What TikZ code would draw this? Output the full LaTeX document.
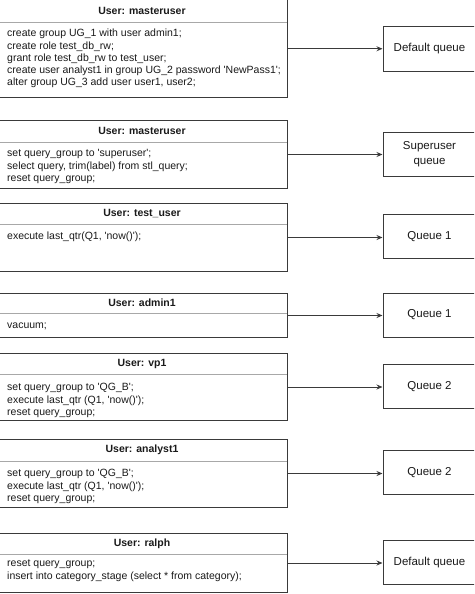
\documentclass[tikz,border=0pt]{standalone}
\usepackage{fontspec}
\newfontfamily\dfont{Liberation Sans}
\usetikzlibrary{arrows.meta}
\definecolor{bordc}{HTML}{3A3A3A}
\definecolor{divc}{HTML}{A8A8A8}
\definecolor{txtc}{HTML}{1A1A1A}
\tikzset{
  ubox/.style={draw=bordc, line width=1pt, minimum width=290pt, inner sep=0pt, anchor=north west},
  divider/.style={draw=divc, line width=0.7pt},
  utitle/.style={font=\dfont\bfseries\fontsize{10.5}{12.3}\selectfont, text=txtc, inner sep=0pt},
  ubody/.style={font=\dfont\fontsize{10.5}{12.3}\selectfont, text=txtc, align=left, inner sep=0pt, anchor=north west},
  qbox/.style={draw=bordc, line width=1pt, minimum width=93pt, minimum height=44pt, inner sep=0pt,
    font=\dfont\fontsize{11.5}{14.5}\selectfont, text=txtc, align=center},
  arr/.style={draw=bordc, line width=0.9pt, -{Stealth[length=6pt,width=5pt]}},
}
\newcommand\userbox[7]{%
  \pgfmathsetmacro\bh{#4-#2}%
  \node[ubox, minimum height=\bh pt] (#1) at (-3,#2) {};
  \draw[divider] (-3,#3) -- (287,#3);
  \node[utitle] (#1t) at (142,{(#2+#3)/2}) {#5};
  \node[ubody] (#1b) at (7,{#6-4.5}) {\rule{0pt}{8pt}#7};
}
\begin{document}
\begin{tikzpicture}[x=1pt,y=-1pt]
\useasboundingbox (0,0) rectangle (474,594);
\clip (0,0) rectangle (474,594);
\fill[white] (0,0) rectangle (474,594);

\userbox{u1}{-0.5}{22}{97}{User: masteruser}{33}{create group UG\_1 with user admin1;\\create role test\_db\_rw;\\grant role test\_db\_rw to test\_user;\\create user analyst1 in group UG\_2 password 'NewPass1';\\alter group UG\_3 add user user1, user2;}
\userbox{u2}{120}{142}{188}{User: masteruser}{153}{set query\_group to 'superuser';\\select query, trim(label) from stl\_query;\\reset query\_group;}
\userbox{u3}{203}{224}{271}{User: test\_user}{236}{execute last\_qtr(Q1, 'now()');}
\userbox{u4}{293}{313}{337}{User: admin1}{325}{vacuum;}
\userbox{u5}{353}{374}{420}{User: vp1}{387}{set query\_group to 'QG\_B';\\execute last\_qtr (Q1, 'now()');\\reset query\_group;}
\userbox{u6}{439}{461}{507}{User: analyst1}{473}{set query\_group to 'QG\_B';\\execute last\_qtr (Q1, 'now()');\\reset query\_group;}
\userbox{u7}{533}{554}{592}{User: ralph}{563}{reset query\_group;\\insert into category\_stage (select * from category);}

\node[qbox] (q1) at (429.5,49) {Default queue};
\node[qbox] (q2) at (429.5,154) {Superuser\\queue};
\node[qbox] (q3) at (429.5,236.5) {Queue 1};
\node[qbox] (q4) at (429.5,315) {Queue 1};
\node[qbox] (q5) at (429.5,386.5) {Queue 2};
\node[qbox] (q6) at (429.5,472.5) {Queue 2};
\node[qbox] (q7) at (429.5,562.5) {Default queue};

\foreach \i in {1,...,7} {
  \draw[arr] (u\i.east) -- (u\i.east -| q\i.west);
}
\end{tikzpicture}
\end{document}
